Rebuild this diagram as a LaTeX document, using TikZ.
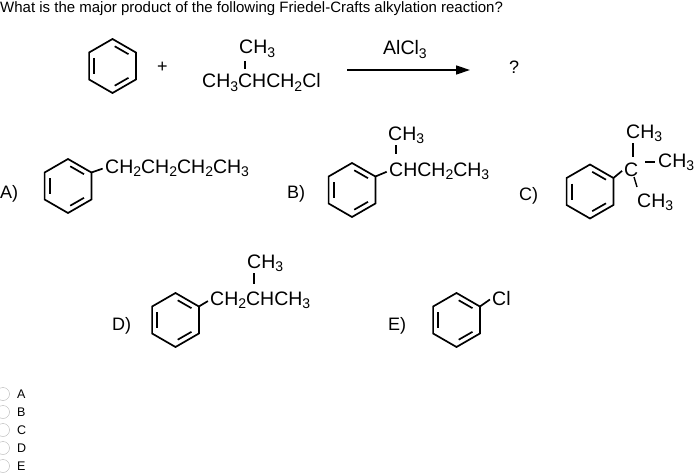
\documentclass[tikz,border=0pt]{standalone}
\usepackage{fontspec}
\setmainfont{Liberation Sans}
\usetikzlibrary{arrows.meta,calc}
\newcommand\lo[1]{\raisebox{-.3ex}{\fontsize{14}{14}\selectfont #1}}
\newcommand\benz[3]{%
  \coordinate (#1) at (#2,#3);
  \coordinate (#1ur) at ($(#1)+(23.4,-13.5)$);
  \draw[bond] ($(#1)+(0,-27)$) -- (#1ur) -- ++(0,27) -- ($(#1)+(0,27)$) -- ++(-23.4,-13.5) -- ++(0,-27) -- cycle;
  \draw[bond] ($(#1)+(-18.2,-8)$) -- ($(#1)+(-18.2,8)$);
  \draw[bond] ($(#1)+(2.2,-19.7)$) -- ($(#1)+(16,-11.8)$);
  \draw[bond] ($(#1)+(16,11.8)$) -- ($(#1)+(2.2,19.7)$);
}
\begin{document}
\begin{tikzpicture}[x=1pt,y=-1pt,
  bond/.style={line width=1.7pt,line join=miter},
  sub/.style={bond,shorten >=2.5pt},
  chem/.style={inner sep=0,anchor=base west,font=\fontsize{19.5}{19.5}\selectfont},
  lbl/.style={inner sep=0,anchor=base west,font=\fontsize{18}{18}\selectfont},
  radio/.style={draw=gray!60,circle,minimum size=13pt,inner sep=0}]
\useasboundingbox (0,0) rectangle (698,476);
\node[inner sep=0,anchor=base west,font=\fontsize{15}{15}\selectfont] (q) at (0,13) {What is the major product of the following Friedel-Crafts alkylation reaction?};
% reactants
\benz{r}{112.5}{66}
\node[lbl] (plus) at (157,73) {+};
\node[chem] (rt) at (239,54) {CH\lo{3}};
\node[chem] (rm) at (202,88) {CH\lo{3}CHCH\lo{2}Cl};
\coordinate (rb1) at (245,61); \coordinate (rb2) at (245,69);
\draw[line width=1.4pt] (rb1) -- (rb2);
\coordinate (a1) at (347,70); \coordinate (a2) at (470,70);
\draw[line width=1.4pt,-{Triangle[length=14pt,width=9pt]}] (a1) -- (a2);
\node[chem] (alcl) at (383,55) {AlCl\lo{3}};
\node[lbl] (qm) at (509,74) {?};
% A
\node[lbl] (la) at (0,198) {A)};
\benz{A}{68}{186}
\node[chem] (at) at (105,173) {CH\lo{2}CH\lo{2}CH\lo{2}CH\lo{3}};
\draw[sub] (Aur) -- (at.west);
% B
\node[lbl] (lb) at (287,198) {B)};
\benz{B}{352}{190}
\node[chem] (bm) at (389,176) {CHCH\lo{2}CH\lo{3}};
\node[chem] (bt) at (388,140) {CH\lo{3}};
\coordinate (bb1) at (396,145); \coordinate (bb2) at (396,154);
\draw[line width=1.4pt] (bb1) -- (bb2);
\draw[sub] (Bur) -- (bm.west);
% C
\node[lbl] (lc) at (519,200) {C)};
\benz{C}{590}{191.5}
\node[chem] (cc) at (624,176) {C};
\node[chem] (ct) at (626,138) {CH\lo{3}};
\node[chem] (cr) at (658,167) {CH\lo{3}};
\node[chem] (cb) at (637,207) {CH\lo{3}};
\coordinate (cb1) at (633,143); \coordinate (cb2) at (633,157);
\draw[line width=1.4pt] (cb1) -- (cb2);
\coordinate (cd1) at (645,162); \coordinate (cd2) at (655,162);
\draw[line width=1.4pt] (cd1) -- (cd2);
\coordinate (ce1) at (634,177); \coordinate (ce2) at (637,187);
\draw[line width=1.4pt] (ce1) -- (ce2);
\draw[sub] (Cur) -- (cc.west);
% D
\node[lbl] (ld) at (112,330) {D)};
\benz{D}{175.5}{320}
\node[chem] (dm) at (210,305) {CH\lo{2}CHCH\lo{3}};
\node[chem] (dt) at (247,268) {CH\lo{3}};
\coordinate (db1) at (254,273); \coordinate (db2) at (254,284);
\draw[line width=1.4pt] (db1) -- (db2);
\draw[sub] (Dur) -- (dm.west);
% E
\node[lbl] (le) at (388,330) {E)};
\benz{E}{456.5}{320}
\node[chem] (el) at (492,305) {Cl};
\draw[sub] (Eur) -- (el.west);
% options
\foreach \l/\y in {A/394,B/412,C/430,D/448,E/466}{
  \node[radio] (o\l) at (3,\y) {};
  \node[inner sep=0,anchor=west,font=\fontsize{12.5}{12.5}\selectfont] (t\l) at (17,\y) {\l};
}
\end{tikzpicture}
\end{document}
